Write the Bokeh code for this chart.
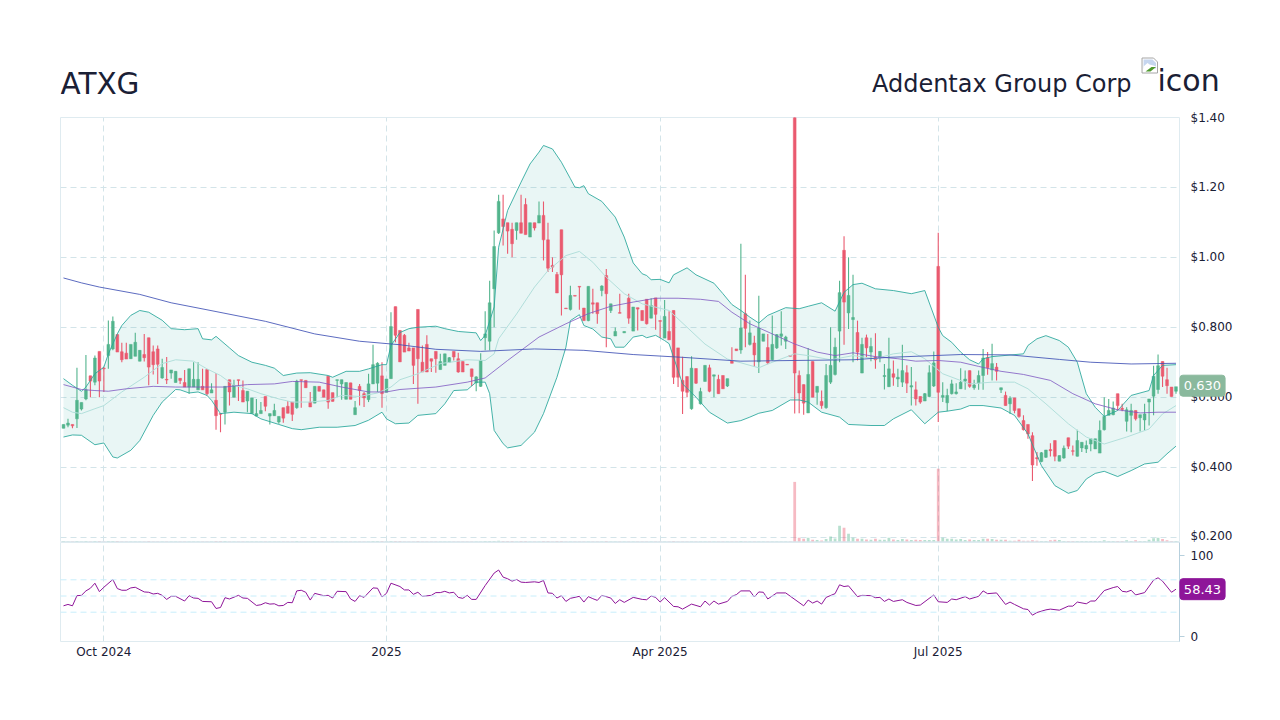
from bokeh.core.properties import value
from bokeh.embed import file_html
from bokeh.resources import INLINE
from bokeh.plotting import figure
from bokeh.layouts import column
from bokeh.models import (ColumnDataSource, Range1d, FixedTicker, Label, Span)

ticker_name = "ATXG"
company = "Addentax Group Corp"
x_tick_labels = {9: "Oct 2024", 72: "2025", 133: "Apr 2025", 195: "Jul 2025"}
price_tick_labels = {1.4: "$1.40", 1.2: "$1.20", 1.0: "$1.00", 0.8: "$0.800",
                     0.6: "$0.600", 0.4: "$0.400", 0.2: "$0.200"}

opens = [.511,.520,.522,.538,.566,.595,.661,.643,.731,.683,
 .719,.738,.779,.730,.726,.710,.717,.703,.722,.770,
 .730,.738,.655,.651,.669,.642,.654,.642,.629,.629,
 .621,.631,.679,.612,.591,.553,.557,.650,.600,.650,
 .619,.589,.553,.546,.553,.602,.546,.547,.529,.570,
 .574,.586,.570,.650,.648,.586,.583,.631,.621,.660,
 .613,.648,.638,.594,.641,.550,.631,.610,.593,.638,
 .640,.661,.614,.653,.859,.791,.777,.741,.741,.851,
 .700,.751,.710,.731,.679,.691,.700,.731,.710,.702,
 .694,.681,.641,.631,.770,.760,.910,1.070,1.110,1.099,
 1.080,1.077,1.099,1.151,1.058,1.099,1.098,1.120,1.050,.977,
 .951,1.079,.855,.851,.891,.917,.855,.819,.870,.870,
 .905,.948,.848,.775,.842,.784,.883,.789,.856,.848,
 .880,.826,.884,.819,.769,.788,.848,.741,.648,.659,
 .567,.682,.581,.645,.684,.660,.651,.662,.632,.705,
 .738,.735,.839,.751,.755,.701,.760,.742,.707,.741,
 .774,.760,.719,1.46,.662,.636,.555,.702,.614,.588,
 .570,.643,.665,.789,1.020,.841,.822,.785,.669,.770,
 .729,.714,.713,.659,.630,.667,.652,.643,.670,.629,
 .621,.602,.589,.602,.632,.974,.600,.584,.610,.610,
 .624,.646,.676,.627,.640,.662,.713,.678,.686,.621,
 .605,.581,.598,.567,.533,.522,.490,.427,.416,.428,
 .450,.476,.417,.426,.484,.447,.431,.455,.452,.466,
 .452,.440,.507,.548,.550,.610,.568,.531,.548,.562,
 .541,.535,.586,.603,.622,.702,.650,.629,.617]

closes = [.522,.526,.518,.591,.585,.621,.646,.712,.646,.681,
 .751,.817,.729,.707,.709,.751,.757,.734,.713,.686,
 .693,.694,.685,.649,.678,.674,.648,.629,.681,.651,
 .651,.621,.610,.621,.547,.551,.631,.615,.634,.648,
 .586,.617,.598,.553,.562,.574,.553,.562,.545,.540,
 .554,.551,.646,.648,.627,.572,.631,.617,.600,.586,
 .588,.650,.650,.642,.594,.570,.619,.598,.638,.693,
 .697,.610,.652,.802,.777,.701,.729,.732,.691,.710,
 .672,.672,.703,.710,.702,.724,.713,.715,.672,.672,
 .692,.659,.658,.705,.781,.870,1.031,1.160,1.088,1.075,
 1.039,1.099,1.069,1.065,1.099,1.084,1.120,1.050,.969,.972,
 .898,.950,.853,.891,.889,.915,.819,.917,.866,.839,
 .918,.896,.867,.788,.840,.788,.826,.858,.852,.819,
 .810,.862,.837,.817,.831,.764,.657,.657,.617,.614,
 .683,.640,.616,.691,.617,.664,.610,.624,.653,.697,
 .733,.798,.797,.784,.721,.798,.781,.698,.751,.779,
 .781,.772,.717,.669,.612,.583,.665,.600,.631,.576,
 .662,.691,.743,.899,.872,.891,.828,.729,.751,.741,
 .745,.707,.731,.662,.681,.657,.657,.676,.640,.633,
 .595,.586,.610,.670,.698,.614,.605,.605,.638,.615,
 .643,.652,.631,.635,.662,.712,.684,.696,.674,.627,
 .576,.597,.562,.545,.507,.495,.406,.424,.441,.449,
 .447,.431,.433,.454,.460,.445,.476,.471,.462,.481,
 .481,.505,.545,.562,.569,.576,.565,.564,.562,.538,
 .550,.552,.595,.660,.690,.660,.633,.602,.630]

highs = [.522,.538,.522,.684,.585,.721,.661,.719,.731,.686,
 .819,.831,.779,.756,.756,.751,.784,.734,.781,.770,
 .748,.748,.710,.715,.678,.674,.654,.678,.681,.700,
 .700,.681,.679,.640,.669,.553,.631,.650,.650,.650,
 .648,.617,.598,.595,.586,.602,.553,.581,.545,.570,
 .589,.586,.650,.650,.648,.615,.631,.631,.621,.660,
 .613,.650,.650,.642,.641,.589,.638,.615,.667,.750,
 .700,.700,.652,.843,.859,.791,.781,.756,.741,.851,
 .748,.777,.710,.731,.724,.724,.715,.731,.727,.702,
 .694,.681,.660,.726,.846,.933,1.077,1.179,1.179,1.099,
 1.099,1.099,1.179,1.169,1.099,1.099,1.160,1.160,1.099,1.000,
 .958,1.079,.855,.919,.891,.917,.855,.917,.910,.870,
 .920,.967,.867,.799,.896,.788,.896,.858,.856,.848,
 .880,.883,.884,.819,.878,.846,.848,.741,.716,.659,
 .717,.682,.627,.691,.693,.664,.664,.662,.653,.743,
 .738,1.039,.950,.819,.776,.890,.781,.781,.834,.781,
 .846,.776,.719,1.60,.676,.636,.741,.702,.631,.619,
 .695,.800,.770,.933,1.060,1.000,.950,.819,.770,.779,
 .770,.783,.732,.695,.770,.705,.681,.750,.691,.686,
 .645,.602,.612,.691,.731,1.070,.643,.624,.650,.640,
 .683,.676,.676,.650,.676,.738,.729,.753,.698,.627,
 .616,.603,.598,.567,.548,.522,.500,.443,.443,.449,
 .468,.476,.433,.462,.484,.462,.507,.471,.476,.481,
 .481,.533,.600,.595,.588,.610,.581,.571,.581,.562,
 .550,.581,.595,.690,.722,.702,.684,.629,.629]

lows = [.511,.514,.511,.512,.562,.591,.600,.634,.600,.615,
 .681,.734,.729,.700,.709,.710,.717,.703,.702,.634,
 .665,.638,.653,.638,.653,.642,.638,.629,.610,.629,
 .621,.621,.605,.612,.507,.500,.522,.576,.600,.589,
 .586,.557,.553,.546,.553,.560,.522,.547,.524,.527,
 .554,.532,.567,.570,.627,.572,.583,.617,.600,.567,
 .588,.600,.593,.594,.594,.550,.576,.572,.586,.638,
 .615,.570,.614,.653,.757,.701,.729,.732,.638,.581,
 .672,.672,.672,.670,.679,.691,.698,.705,.670,.672,
 .692,.632,.617,.629,.734,.734,.800,1.067,1.034,1.010,
 1.000,1.050,1.069,1.065,1.058,1.077,1.098,.991,.958,.958,
 .898,.834,.853,.848,.889,.850,.819,.817,.839,.810,
 .889,.743,.841,.775,.840,.784,.810,.789,.791,.819,
 .808,.826,.793,.770,.769,.764,.638,.629,.552,.600,
 .564,.638,.579,.645,.614,.600,.610,.624,.629,.697,
 .733,.724,.743,.748,.686,.669,.760,.694,.705,.738,
 .748,.738,.717,.553,.554,.550,.555,.600,.578,.567,
 .567,.638,.662,.700,.750,.795,.700,.705,.669,.714,
 .703,.681,.700,.622,.629,.633,.629,.629,.612,.576,
 .576,.581,.589,.600,.629,.529,.586,.560,.608,.608,
 .624,.621,.627,.621,.621,.621,.664,.648,.648,.612,
 .576,.552,.554,.541,.505,.481,.360,.404,.414,.426,
 .430,.417,.417,.424,.452,.433,.430,.443,.440,.445,
 .452,.440,.505,.548,.548,.562,.560,.502,.500,.533,
 .502,.505,.519,.548,.610,.629,.610,.602,.610]

volumes = [.2,.1,.1,.2,.1,.2,.1,.2,.2,.1, .3,.3,.2,.1,.1,.1,.1,.1,.1,.2,
 .1,.1,.1,.1,.1,.1,.1,.1,.1,.1, .1,.1,.1,.1,.2,.2,.2,.1,.1,.1,
 .1,.1,.1,.1,.1,.1,.1,.1,.1,.1, .1,.1,.2,.1,.1,.1,.1,.1,.1,.1,
 .1,.1,.1,.1,.1,.1,.1,.1,.1,.2, .2,.2,.1,.3,.3,.2,.1,.1,.1,.2,
 .1,.1,.1,.1,.1,.1,.1,.1,.1,.1, .1,.1,.1,.1,.2,.2,.3,.4,.3,.2,
 .2,.1,.2,.2,.1,.1,.1,.2,.2,.1, .2,.2,.1,.1,.1,.1,.1,.1,.1,.1,
 .1,.2,.1,.1,.1,.1,.1,.1,.1,.1, .1,.1,.1,.1,.1,.1,.2,.1,.1,.1,
 .1,.1,.1,.1,.1,.1,.1,.1,.1,.1, .1,.2,.1,.1,.1,.1,.1,.1,.1,.1,
 .1,.1,.1,29.8,1.9,1.4,1.9,.9,.7,.5, 1.2,2.5,1.5,7.9,6.9,3.9,1.9,1.4,1.4,1.0,
 .9,1.4,.9,.9,1.9,1.0,.7,1.2,1.0,.7, .9,.8,.8,.8,.8,36.4,1.9,1.4,1.4,1.0,
 1.2,.8,1.0,.8,.8,1.4,1.4,1.2,.9,.9, .9,.4,.4,.9,.4,.4,.6,.4,.3,.3,
 .6,.9,.7,.3,.2,.2,.2,.2,.2,.3, .2,.2,.6,.3,.2,.2,.2,.6,.3,.6,
 .2,.2,.9,1.6,1.9,1.2,.6,.2,.2]

bb_upper_x = [0,2,4,5,7,9,10,12,13,15,17,19,22,24,27,30,31,33,34,37,39,42,45,47,49,52,55,59,60,63,66,68,71,72,73,75,
 77,79,83,85,88,92,93,94,96,97,99,102,104,106,107,109,111,113,114,115,116,117,120,123,125,127,129,130,131,133,135,136,139,141,145,147,149,151,
 153,155,157,161,164,166,169,172,174,176,178,181,185,189,192,195,196,198,200,
 202,204,205,207,214,215,217,219,222,224,226,228,230,232,235,238,242,243,245,248]
bb_upper_y = [.653,.634,.617,.629,.667,.686,.724,.781,.805,.834,.848,.843,.820,.796,.793,.796,.767,.764,.774,.741,.719,.700,.691,.683,.662,.669,.670,.662,.657,.674,.674,.681,.693,.693,.748,.785,
 .796,.800,.803,.796,.788,.784,.762,.777,.858,1.029,1.134,1.215,1.267,1.301,1.320,1.310,1.272,1.225,1.201,1.199,1.205,1.182,1.160,1.115,1.058,.984,.953,.948,.936,.937,.927,.950,.970,.950,.926,.896,.865,.848,
 .829,.812,.834,.856,.853,.860,.870,.846,.900,.922,.926,.910,.905,.896,.905,.800,.776,.757,.729,
 .707,.695,.710,.716,.724,.748,.767,.776,.762,.743,.700,.610,.571,.545,.562,.605,.619,.662,.691,.693]

bb_lower_x = [0,2,4,7,9,11,12,15,17,20,22,25,26,28,30,32,33,35,38,42,44,48,51,53,57,61,65,68,71,72,74,
 77,79,83,85,87,90,92,94,95,96,98,99,102,105,107,110,112,113,115,116,118,120,122,123,125,127,129,130,132,134,135,136,138,141,144,148,
 151,153,155,158,162,164,166,169,173,175,180,183,185,189,192,195,197,
 200,202,205,209,212,215,218,221,224,226,228,230,232,235,238,241,244,246,248]
bb_lower_y = [.486,.492,.491,.464,.469,.429,.426,.448,.476,.548,.586,.622,.621,.612,.615,.605,.591,.553,.557,.553,.538,.522,.510,.507,.514,.514,.519,.534,.557,.538,.524,
 .526,.548,.553,.581,.619,.621,.643,.643,.610,.505,.467,.455,.462,.500,.553,.657,.743,.819,.836,.805,.795,.772,.767,.743,.743,.772,.777,.770,.777,.762,.753,.714,.638,.600,.557,.526,
 .533,.543,.554,.562,.592,.592,.586,.557,.543,.522,.519,.519,.538,.564,.524,.557,.560,
 .566,.576,.576,.569,.548,.495,.404,.347,.325,.333,.366,.382,.388,.373,.390,.409,.414,.438,.460]

bb_mid_x = [0,2,4,7,9,13,18,22,25,29,32,35,38,41,44,48,51,55,59,62,66,70,73,75,79,84,90,94,96,97,101,105,108,112,115,118,121,125,129,135,139,143,148,
 155,157,163,166,171,174,176,181,185,189,192,196,202,207,212,215,219,224,228,232,237,242,245,248]
bb_mid_y = [.570,.557,.553,.567,.576,.615,.657,.696,.707,.703,.681,.662,.634,.624,.610,.595,.586,.586,.591,.605,.602,.612,.629,.650,.667,.696,.707,.705,.724,.767,.838,.915,.962,1.005,1.017,.986,.943,.896,.867,.848,.800,.752,.709,
 .684,.695,.724,.719,.707,.714,.719,.710,.724,.730,.710,.667,.638,.643,.643,.624,.581,.524,.486,.466,.486,.509,.552,.576]

ma50_x = [0,4,7,10,14,20,25,30,36,41,47,51,57,62,68,72,75,83,90,94,99,106,112,117,122,127,132,137,142,146,149,
 153,158,163,168,172,176,181,186,190,195,200,204,209,214,220,225,230,235,240,244,248]
ma50_y = [.636,.622,.619,.617,.624,.631,.629,.629,.629,.636,.638,.645,.643,.629,.615,.615,.622,.629,.643,.655,.705,.772,.810,.839,.860,.872,.883,.883,.880,.874,.843,
 .810,.781,.752,.729,.719,.727,.716,.710,.703,.705,.700,.688,.674,.665,.648,.610,.581,.564,.555,.557,.557]

ma200_x = [0,4,8,17,24,32,45,56,66,75,83,93,105,116,127,138,151,163,176,184,200,211,222,229,238,248]
ma200_y = [.941,.927,.915,.894,.870,.850,.817,.781,.760,.750,.737,.731,.738,.734,.722,.714,.703,.705,.707,.714,.722,.721,.708,.700,.695,.697]

rsi_x = [0,1,2,3,4,5,6,7,8,9,11,12,13,14,15,16,18,19,20,21,22,23,24,25,27,28,29,30,31,33,34,35,36,37,39,40,41,43,44,45,46,47,48,49,50,51,52,53,54,55,56,58,59,60,61,63,64,65,66,67,69,70,71,72,73,75,76,77,78,79,80,82,83,84,85,86,87,88,89,90,91,92,94,96,97,98,99,100,101,102,103,105,106,107,108,109,110,111,112,113,115,116,117,118,119,120,122,123,124,125,127,129,
 130,131,132,133,134,136,137,138,140,142,143,144,145,146,148,149,150,151,153,154,155,156,157,159,161,165,166,167,168,169,170,172,173,174,175,177,178,180,181,182,183,184,185,187,188,190,191,194,195,197,198,199,201,202,204,205,206,208,210,211,212,214,215,216,217,219,220,222,224,225,226,228,229,230,232,234,235,236,237,238,239,241,243,244,245,247,248]
rsi_y = [37.9,39.6,37.9,50.4,50.8,56.3,59.6,65.8,55.4,60.8,70.4,59.2,57.1,57.1,60.0,60.8,55.0,54.6,52.5,53.3,50.8,45.8,49.6,49.6,43.8,50.4,47.5,47.1,43.3,42.9,34.6,35.8,47.9,46.3,50.8,47.5,47.1,38.3,39.2,41.7,40.0,40.4,37.9,38.3,42.1,41.7,56.3,57.1,54.6,45.0,53.3,50.4,50.8,47.5,55.8,55.4,46.3,43.3,50.4,48.3,60.0,59.6,48.8,53.3,65.8,61.7,57.5,57.5,52.1,54.6,49.6,50.8,54.2,54.2,55.8,53.8,54.6,48.3,47.1,50.8,45.8,45.8,62.9,78.3,82.1,73.3,71.3,68.3,70.4,67.1,66.7,67.5,66.7,69.2,53.8,53.3,47.5,50.4,43.3,47.1,49.6,42.5,49.2,46.7,44.6,50.8,47.5,40.8,45.4,42.1,48.3,45.8,
 45.4,50.0,48.3,42.5,47.9,37.1,36.7,33.8,40.0,36.7,43.8,38.8,43.8,40.0,43.3,49.6,51.7,56.3,56.3,48.8,55.0,54.6,46.3,53.8,53.8,37.9,45.0,41.3,43.8,40.0,48.3,52.9,63.8,61.7,62.5,49.2,50.8,50.4,47.9,48.3,43.3,46.3,43.3,45.4,42.1,38.3,38.8,51.3,42.9,42.1,46.3,45.4,49.2,46.3,49.6,56.3,52.9,53.8,39.6,42.5,39.6,34.2,33.3,26.3,29.6,32.9,33.8,32.5,37.5,37.5,42.5,40.4,43.8,43.8,56.7,60.4,61.7,55.8,55.0,57.1,51.3,54.2,69.6,72.5,68.3,54.6,58.43]

UP, DOWN = "#53b48d", "#ea5a6f"
INK = "#1a2035"
GRID = "#d3e4e9"
FRAME = "#dfebf0"
FONT = "DejaVu Sans"

idx = list(range(len(closes)))
colors = [UP if c >= o else DOWN for o, c in zip(opens, closes)]
src = ColumnDataSource(dict(x=idx, o=opens, c=closes, h=highs, l=lows, v=volumes, col=colors))
x_range = Range1d(-0.668, 248.78)

def bar_at(px):
    return -0.668 + (px - 60) * (248.78 + 0.668) / 1120

# header strip: a frame in page pixels holding the titles and the broken-image glyph
head = figure(width=1280, height=109, x_range=Range1d(60, 1180), y_range=Range1d(109, 0),
              output_backend="svg", toolbar_location=None,
              min_border_left=60, min_border_right=100, min_border_top=0, min_border_bottom=0)
head.axis.visible = False
head.grid.visible = False
head.outline_line_color = None
head.text([60], [83], text=[ticker_name], text_font=value(FONT), text_font_size="29.5px", text_color=INK,
          text_baseline="middle", text_align="left")
head.text([1132], [83], text=[company], text_font=value(FONT), text_font_size="24px", text_color=INK,
          text_baseline="middle", text_align="right")
head.add_layout(Label(x=1158, y=80, text="icon", text_font=FONT, text_font_size="30px", text_color=INK,
                      text_baseline="middle", text_align="left"), "right")
head.patch([1142.5, 1154, 1158, 1158, 1142.5], [57.5, 57.5, 61.5, 72.5, 72.5], fill_color="#ffffff",
           line_color="#a6a6a6", line_width=1)
head.patch([1144, 1153, 1156.5, 1156.5, 1144], [59, 59, 62.5, 68, 68], fill_color="#c6d6ef", line_color=None)
head.patch([1144, 1148, 1150, 1154, 1156.5, 1151, 1144], [66, 62.5, 64, 65, 66, 71, 71],
           fill_color="#ffffff", line_color=None)
head.patch([1146, 1152, 1156.5, 1151, 1146], [71, 66.5, 66.5, 71, 71], fill_color="#4f9a2e", line_color=None)

main = figure(width=1280, height=433, x_range=x_range, y_range=Range1d(0.1872, 1.40),
              y_axis_location="right", output_backend="svg", toolbar_location=None,
              min_border_left=60, min_border_right=100, min_border_top=8, min_border_bottom=1)
main.extra_y_ranges = {"vol": Range1d(0, 212)}
main.xaxis.visible = False
main.outline_line_color = FRAME
ya = main.yaxis[0]
ya.ticker = FixedTicker(ticks=list(price_tick_labels))
ya.major_label_overrides = price_tick_labels
ya.axis_line_color = None
ya.major_tick_line_color = None
ya.minor_tick_line_color = None
ya.major_label_standoff = 5
ya.major_label_text_font = FONT
ya.major_label_text_font_size = "12px"
ya.major_label_text_color = INK
main.ygrid[0].ticker = FixedTicker(ticks=list(price_tick_labels))
main.ygrid[0].grid_line_color = GRID
main.ygrid[0].grid_line_dash = [6, 4]
main.xgrid[0].ticker = FixedTicker(ticks=list(x_tick_labels))
main.xgrid[0].grid_line_color = GRID
main.xgrid[0].grid_line_dash = [6, 4]

main.patch(bb_upper_x + bb_lower_x[::-1], bb_upper_y + bb_lower_y[::-1],
           fill_color="#26a69a", fill_alpha=0.1, line_color=None)
main.vbar(x="x", top="v", bottom=0, width=0.62, source=src, fill_color="col", line_color=None,
          fill_alpha=0.42, y_range_name="vol")
main.segment(x0="x", x1="x", y0="l", y1="h", source=src, line_color="col", line_width=1.1)
main.vbar(x="x", top="o", bottom="c", width=0.62, source=src, fill_color="col",
          line_color="col", line_width=0.5)
main.line(bb_upper_x, bb_upper_y, line_color="#26a69a", line_width=1, line_alpha=0.85)
main.line(bb_lower_x, bb_lower_y, line_color="#26a69a", line_width=1, line_alpha=0.85)
main.line(bb_mid_x, bb_mid_y, line_color="#b2dfdb", line_width=1)
main.line(ma50_x, ma50_y, line_color="#7e57c2", line_width=1, line_alpha=0.8)
main.line(ma200_x, ma200_y, line_color="#3f51b5", line_width=1, line_alpha=0.85)

main.add_layout(Label(x=bar_at(1203), y=closes[-1], text=f"{closes[-1]:.3f}", y_offset=1,
                      text_font=FONT, text_font_size="13px", text_color="#ffffff",
                      text_align="center", text_baseline="middle", background_fill_color="#8ab99d",
                      border_line_color="#8ab99d", padding=(4, 6), border_radius=3), "right")

osc = figure(width=1280, height=131, x_range=x_range, y_range=Range1d(-6.17, 116.05),
             y_axis_location="right", output_backend="svg", toolbar_location=None,
             min_border_left=60, min_border_right=100, min_border_top=0, min_border_bottom=32)
osc.outline_line_color = FRAME
osc.ygrid.visible = False
osc.xgrid[0].ticker = FixedTicker(ticks=list(x_tick_labels))
osc.xgrid[0].grid_line_color = GRID
osc.xgrid[0].grid_line_dash = [6, 4]
for level in (70, 50, 30):
    osc.add_layout(Span(location=level, dimension="width", line_color="#c8eefb", line_width=1,
                        line_dash=[6, 4]))
xa = osc.xaxis[0]
xa.ticker = FixedTicker(ticks=list(x_tick_labels))
xa.major_label_overrides = x_tick_labels
xa.axis_line_color = None
xa.major_tick_line_color = None
xa.minor_tick_line_color = None
xa.major_label_standoff = -3
xa.major_label_text_font = FONT
xa.major_label_text_font_size = "12px"
xa.major_label_text_color = INK
ra = osc.yaxis[0]
ra.ticker = FixedTicker(ticks=[0, 100])
ra.axis_line_color = "#b7d0dd"
ra.major_tick_line_color = "#b7d0dd"
ra.major_tick_in = 0
ra.major_tick_out = 5
ra.minor_tick_line_color = None
ra.major_label_standoff = 6
ra.major_label_text_font = FONT
ra.major_label_text_font_size = "12px"
ra.major_label_text_color = INK
osc.line(rsi_x, rsi_y, line_color="#8e1599", line_width=1)
osc.add_layout(Label(x=bar_at(1203), y=rsi_y[-1], text=f"{rsi_y[-1]:.2f}",
                     text_font=FONT, text_font_size="13px", text_color="#ffffff",
                     text_align="center", text_baseline="middle", background_fill_color="#8e1599",
                     border_line_color="#8e1599", padding=(4, 6), border_radius=3), "right")

page = column(head, main, osc, spacing=0)
open("out.html", "w").write(file_html(page, INLINE))
